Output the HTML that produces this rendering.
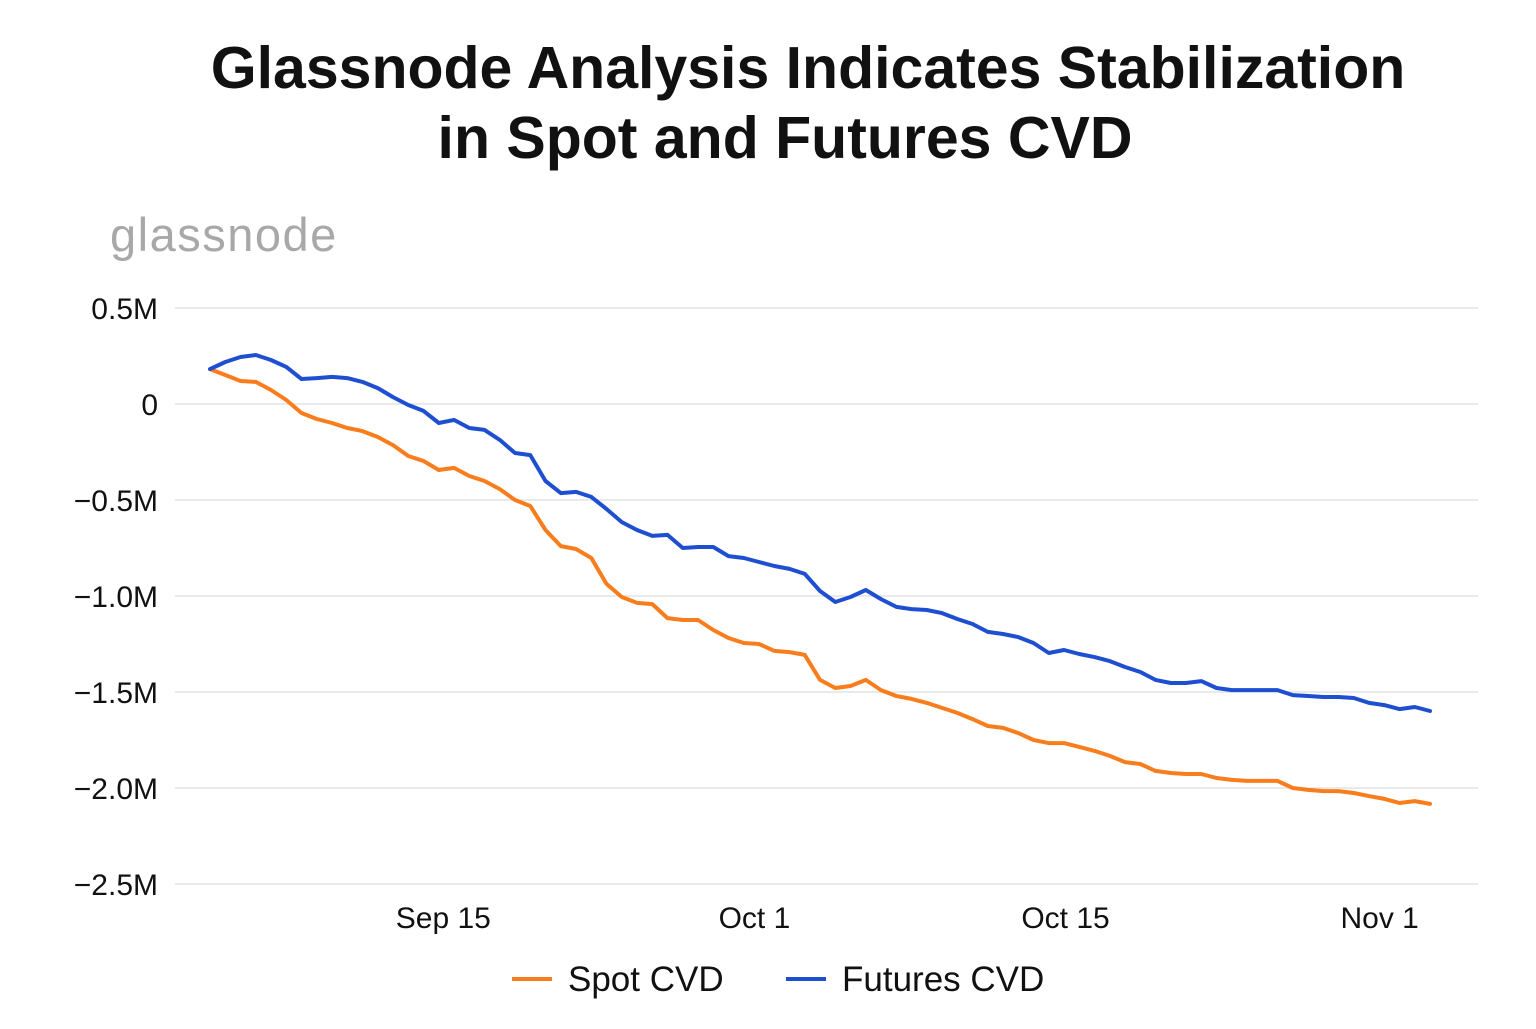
<!DOCTYPE html>
<html><head><meta charset="utf-8"><style>
body{margin:0;background:#fff;width:1536px;height:1024px;overflow:hidden;font-family:"Liberation Sans",sans-serif}
</style></head><body>
<svg width="1536" height="1024" viewBox="0 0 1536 1024" xmlns="http://www.w3.org/2000/svg">
<g font-family="Liberation Sans, sans-serif" font-weight="bold" font-size="59" fill="#111" text-anchor="middle">
<text x="808" y="88">Glassnode Analysis Indicates Stabilization</text>
<text x="785" y="158">in Spot and Futures CVD</text>
</g>
<text x="110" y="251" font-size="47" letter-spacing="1.5" fill="#a8a8a8" font-family="Liberation Sans, sans-serif">glassnode</text>
<g id="grid"></g><g id="ylab"></g><g id="xlab"></g><g id="lines"></g>
<g font-size="35" fill="#111">
<line x1="512" y1="979" x2="552" y2="979" stroke="#f97d1c" stroke-width="4"/>
<text x="568" y="991">Spot CVD</text>
<line x1="786" y1="979" x2="826" y2="979" stroke="#1f4fd1" stroke-width="4"/>
<text x="842" y="991">Futures CVD</text>
</g>
</svg>
<script>
const spotCVD=[182,151,120,115,73,21,-47,-78,-99,-125,-141,-172,-214,-271,-297,-344,-333,-375,-401,-443,-500,-531,-656,-740,-755,-802,-937,-1005,-1036,-1042,-1115,-1125,-1125,-1177,-1219,-1245,-1250,-1286,-1292,-1307,-1437,-1479,-1469,-1437,-1490,-1521,-1536,-1557,-1583,-1609,-1641,-1677,-1687,-1714,-1750,-1766,-1766,-1786,-1807,-1833,-1865,-1875,-1911,-1922,-1927,-1927,-1948,-1958,-1963,-1963,-1963,-2000,-2010,-2016,-2016,-2026,-2042,-2057,-2078,-2068,-2083];
const futuresCVD=[182,219,245,255,229,193,130,135,141,135,115,83,36,-5,-36,-99,-83,-125,-135,-187,-255,-266,-401,-464,-458,-484,-547,-615,-656,-687,-682,-750,-745,-745,-792,-802,-823,-844,-859,-885,-974,-1031,-1005,-969,-1016,-1057,-1068,-1073,-1089,-1120,-1146,-1187,-1198,-1214,-1245,-1297,-1281,-1302,-1318,-1339,-1370,-1396,-1437,-1453,-1453,-1443,-1479,-1490,-1490,-1490,-1490,-1516,-1521,-1526,-1526,-1531,-1557,-1568,-1589,-1578,-1599];
const yTicks=[500,0,-500,-1000,-1500,-2000,-2500];
const yTickLabels=["0.5M","0","\u22120.5M","\u22121.0M","\u22121.5M","\u22122.0M","\u22122.5M"];
const xTickIdx=[15.3,35.7,56.1,76.7];
const xTickLabels=["Sep 15","Oct 1","Oct 15","Nov 1"];
const NS="http://www.w3.org/2000/svg";
const xS=i=>210+i*15.25;
const yS=v=>404-v*96/500;
function mk(t,a,p){const e=document.createElementNS(NS,t);for(const k in a)e.setAttribute(k,a[k]);p.appendChild(e);return e;}
const grid=document.getElementById('grid'),yl=document.getElementById('ylab'),xl=document.getElementById('xlab'),ln=document.getElementById('lines');
yTicks.forEach((v,i)=>{
 const g=mk('line',{x1:175,x2:1478,y1:yS(v),y2:yS(v),stroke:'#e3e3e3','stroke-width':1.5},grid);
 
 
 const t=mk('text',{x:158,y:yS(v)+11,'text-anchor':'end','font-size':30,fill:'#111'},yl);
 t.textContent=yTickLabels[i];
 
 
});
xTickIdx.forEach((ix,i)=>{
 const t=mk('text',{x:xS(ix),y:928,'text-anchor':'middle','font-size':30,fill:'#111'},xl);
 t.textContent=xTickLabels[i];
 
 
});
function path(d){return d.map((v,i)=>(i?'L':'M')+xS(i).toFixed(1)+' '+yS(v).toFixed(1)).join(' ');}
const s=mk('path',{d:path(spotCVD),fill:'none',stroke:'#f97d1c','stroke-width':4,'stroke-linejoin':'round','stroke-linecap':'round'},ln);


const f=mk('path',{d:path(futuresCVD),fill:'none',stroke:'#1f4fd1','stroke-width':4,'stroke-linejoin':'round','stroke-linecap':'round'},ln);


</script>
</body></html>
